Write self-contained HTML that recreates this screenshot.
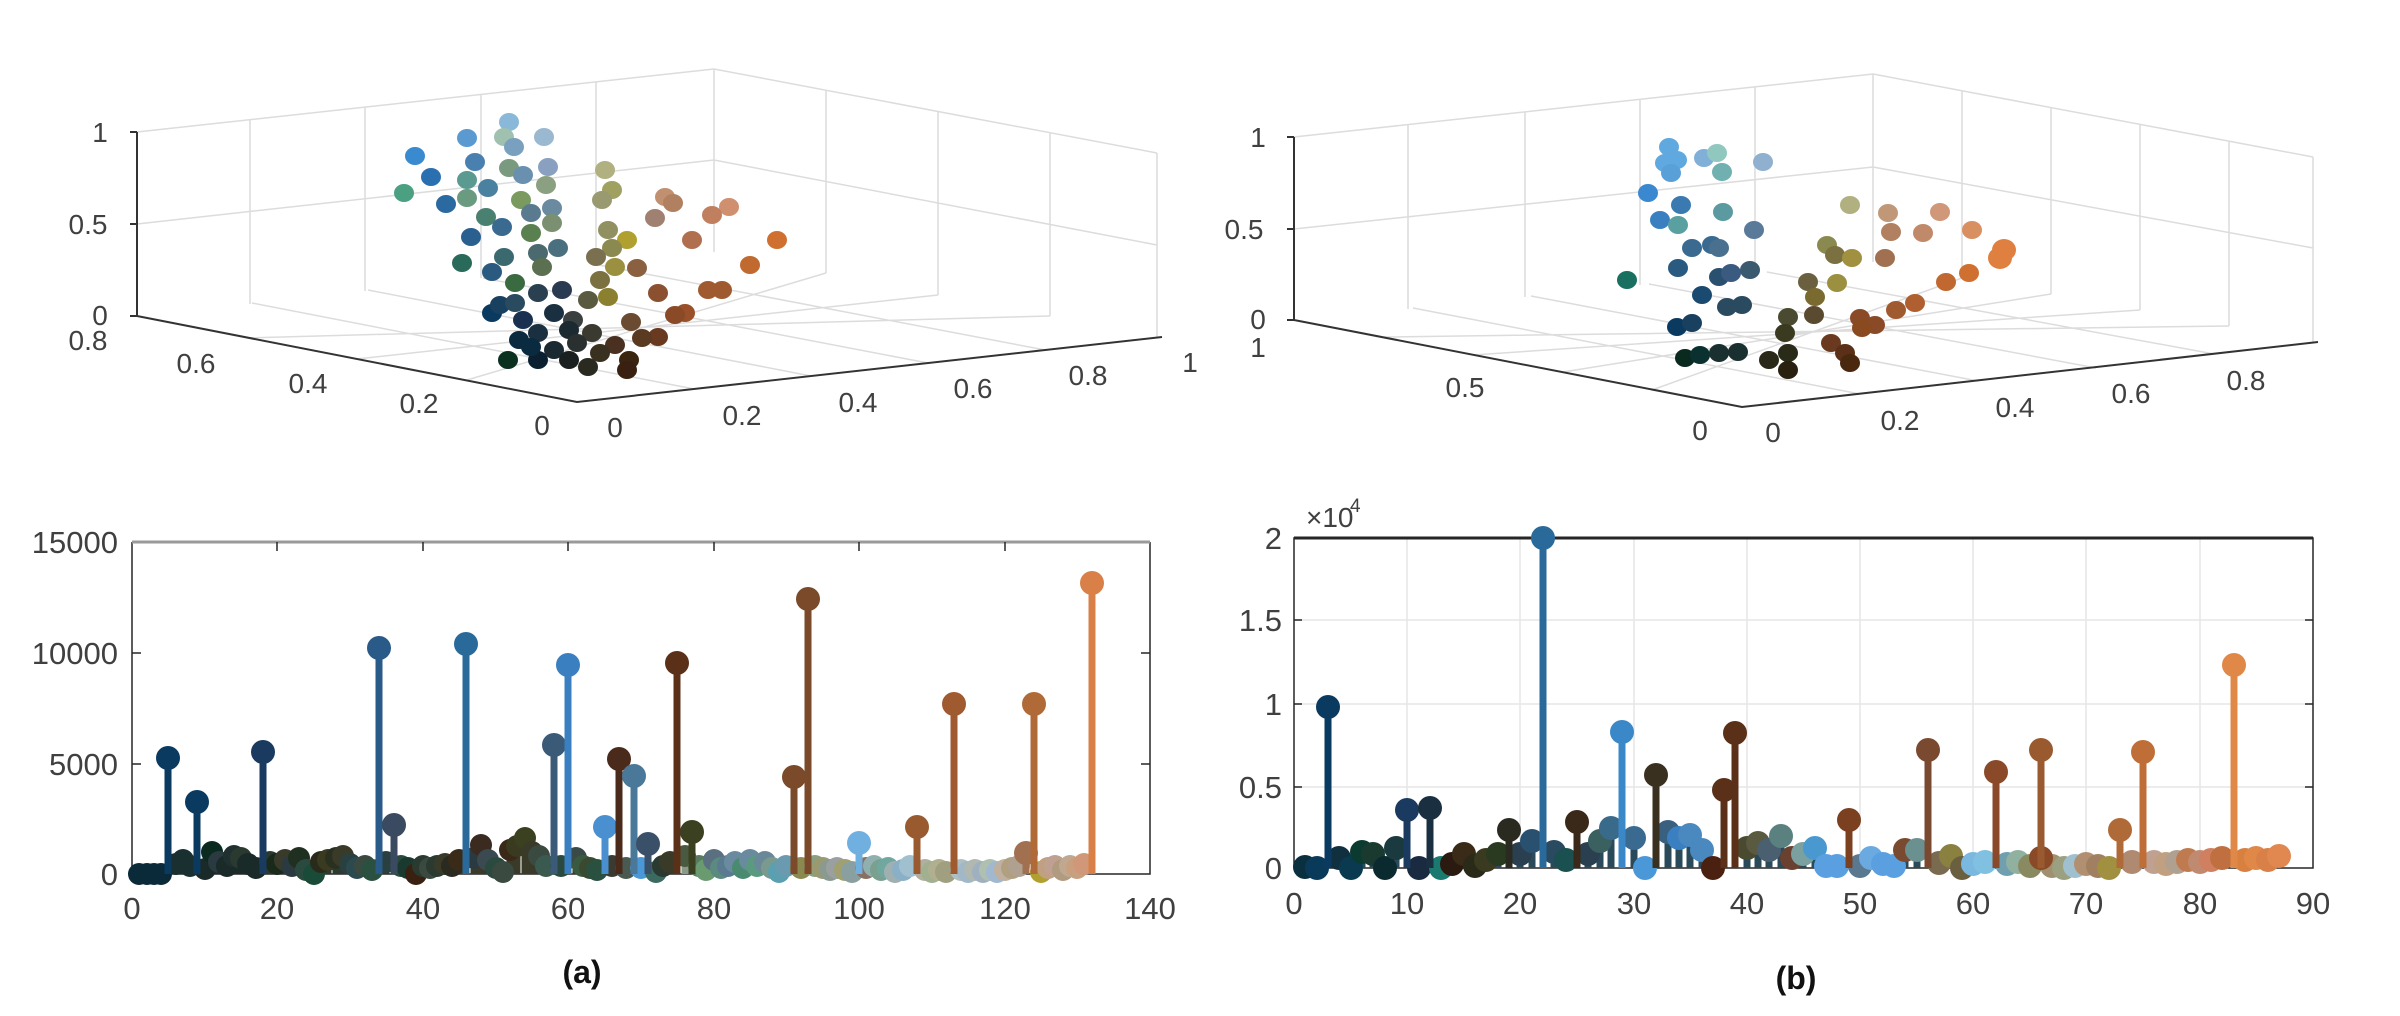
<!DOCTYPE html>
<html><head><meta charset="utf-8"><style>
html,body{margin:0;padding:0;background:#fff}
svg{display:block}
text{font-family:"Liberation Sans",sans-serif;fill:#404040}
circle{stroke:none}
</style></head><body>
<svg width="2400" height="1016" viewBox="0 0 2400 1016" xmlns="http://www.w3.org/2000/svg">
<rect width="2400" height="1016" fill="#fff"/>

<!-- ===== TOP LEFT 3D ===== -->
<g stroke="#dcdcdc" stroke-width="1.5" fill="none">
<path d="M137,132 L714,69 L1157,153 M714,69 V252 M1157,153 V337 M137,224 L714,160 L1157,245"/>
<path d="M250,120 V304 M365,107 V291 M481,95 V278 M596,82 V266 M826,90 V273 M938,111 V295 M1050,132 V316"/>
<path d="M467,380 L826,273 M357,359 L938,295 M247,338 L1050,316 M694,389 L252,303 M811,376 L368,290 M928,363 L483,278 M1045,350 L599,265"/>
</g>
<g stroke="#333" stroke-width="2" fill="none">
<path d="M137,132 V316 M130,132 H137 M130,224 H137 M130,316 H137 M137,316 L577,402 L1162,337"/>
</g>
<g font-size="28">
<text x="100" y="142" text-anchor="middle">1</text><text x="88" y="234" text-anchor="middle">0.5</text><text x="100" y="325" text-anchor="middle">0</text>
<text x="88" y="350" text-anchor="middle">0.8</text><text x="196" y="373" text-anchor="middle">0.6</text><text x="308" y="393" text-anchor="middle">0.4</text><text x="419" y="413" text-anchor="middle">0.2</text><text x="542" y="435" text-anchor="middle">0</text>
<text x="615" y="437" text-anchor="middle">0</text><text x="742" y="425" text-anchor="middle">0.2</text><text x="858" y="412" text-anchor="middle">0.4</text><text x="973" y="398" text-anchor="middle">0.6</text><text x="1088" y="385" text-anchor="middle">0.8</text><text x="1190" y="372" text-anchor="middle">1</text>
</g>
<g>
<ellipse cx="509" cy="122" rx="10" ry="9" fill="#8ab8d8"/><ellipse cx="467" cy="138" rx="10" ry="9" fill="#5a9ad0"/><ellipse cx="544" cy="137" rx="10" ry="9" fill="#9ab8d0"/><ellipse cx="504" cy="137" rx="10" ry="9" fill="#a0c0b0"/><ellipse cx="514" cy="147" rx="10" ry="9" fill="#7aa0c0"/><ellipse cx="415" cy="156" rx="10" ry="9" fill="#3a8ad0"/><ellipse cx="475" cy="162" rx="10" ry="9" fill="#4a80b0"/><ellipse cx="509" cy="168" rx="10" ry="9" fill="#7a9a80"/><ellipse cx="548" cy="167" rx="10" ry="9" fill="#8aa0c0"/><ellipse cx="523" cy="175" rx="10" ry="9" fill="#6a90b0"/><ellipse cx="431" cy="177" rx="10" ry="9" fill="#2a70b0"/><ellipse cx="467" cy="180" rx="10" ry="9" fill="#5a9a90"/><ellipse cx="546" cy="185" rx="10" ry="9" fill="#8aa080"/><ellipse cx="488" cy="188" rx="10" ry="9" fill="#4a80a0"/><ellipse cx="404" cy="193" rx="10" ry="9" fill="#4aa080"/><ellipse cx="446" cy="204" rx="10" ry="9" fill="#2a6aa0"/><ellipse cx="467" cy="198" rx="10" ry="9" fill="#6a9a80"/><ellipse cx="521" cy="200" rx="10" ry="9" fill="#7a9a60"/><ellipse cx="552" cy="208" rx="10" ry="9" fill="#6a8aa0"/><ellipse cx="531" cy="213" rx="10" ry="9" fill="#5a7a90"/><ellipse cx="486" cy="217" rx="10" ry="9" fill="#4a8070"/><ellipse cx="502" cy="227" rx="10" ry="9" fill="#3a6a90"/><ellipse cx="552" cy="223" rx="10" ry="9" fill="#7a9070"/><ellipse cx="471" cy="237" rx="10" ry="9" fill="#2a6090"/><ellipse cx="531" cy="233" rx="10" ry="9" fill="#5a8050"/><ellipse cx="462" cy="263" rx="10" ry="9" fill="#2a6a5a"/><ellipse cx="504" cy="257" rx="10" ry="9" fill="#3a6a70"/><ellipse cx="492" cy="272" rx="10" ry="9" fill="#2a5a80"/><ellipse cx="538" cy="253" rx="10" ry="9" fill="#4a6a70"/><ellipse cx="558" cy="248" rx="10" ry="9" fill="#4a7080"/><ellipse cx="542" cy="267" rx="10" ry="9" fill="#5a7050"/><ellipse cx="515" cy="283" rx="10" ry="9" fill="#3a6a40"/>
<ellipse cx="605" cy="170" rx="10" ry="9" fill="#b0b080"/><ellipse cx="612" cy="190" rx="10" ry="9" fill="#a0a060"/><ellipse cx="602" cy="200" rx="10" ry="9" fill="#9a9a70"/><ellipse cx="608" cy="230" rx="10" ry="9" fill="#909060"/><ellipse cx="627" cy="240" rx="10" ry="9" fill="#b0a030"/><ellipse cx="612" cy="248" rx="10" ry="9" fill="#8a8a50"/><ellipse cx="596" cy="257" rx="10" ry="9" fill="#7a7050"/><ellipse cx="615" cy="267" rx="10" ry="9" fill="#9a9040"/><ellipse cx="600" cy="280" rx="10" ry="9" fill="#7a7040"/><ellipse cx="608" cy="297" rx="10" ry="9" fill="#8a8030"/>
<ellipse cx="665" cy="197" rx="10" ry="9" fill="#c09070"/><ellipse cx="673" cy="203" rx="10" ry="9" fill="#b08060"/><ellipse cx="729" cy="207" rx="10" ry="9" fill="#d09070"/><ellipse cx="712" cy="215" rx="10" ry="9" fill="#c08060"/><ellipse cx="655" cy="218" rx="10" ry="9" fill="#a08070"/><ellipse cx="777" cy="240" rx="10" ry="9" fill="#d07030"/><ellipse cx="692" cy="240" rx="10" ry="9" fill="#b07050"/><ellipse cx="750" cy="265" rx="10" ry="9" fill="#c06a30"/><ellipse cx="637" cy="268" rx="10" ry="9" fill="#8a6040"/><ellipse cx="708" cy="290" rx="10" ry="9" fill="#a05a30"/><ellipse cx="722" cy="290" rx="10" ry="9" fill="#a05a30"/><ellipse cx="658" cy="293" rx="10" ry="9" fill="#8a5030"/><ellipse cx="685" cy="313" rx="10" ry="9" fill="#9a5028"/><ellipse cx="675" cy="315" rx="10" ry="9" fill="#8a4a28"/><ellipse cx="631" cy="322" rx="10" ry="9" fill="#6a4a30"/><ellipse cx="658" cy="337" rx="10" ry="9" fill="#6a3a20"/><ellipse cx="642" cy="338" rx="10" ry="9" fill="#5a3a20"/><ellipse cx="615" cy="345" rx="10" ry="9" fill="#4a3020"/><ellipse cx="629" cy="360" rx="10" ry="9" fill="#3a2510"/><ellipse cx="627" cy="370" rx="10" ry="9" fill="#3a2010"/>
<ellipse cx="492" cy="313" rx="10" ry="9" fill="#0a3a60"/><ellipse cx="500" cy="305" rx="10" ry="9" fill="#1a4060"/><ellipse cx="515" cy="303" rx="10" ry="9" fill="#2a4a60"/><ellipse cx="538" cy="293" rx="10" ry="9" fill="#2a4050"/><ellipse cx="562" cy="290" rx="10" ry="9" fill="#2a3a50"/><ellipse cx="523" cy="320" rx="10" ry="9" fill="#1a3050"/><ellipse cx="554" cy="313" rx="10" ry="9" fill="#1a3040"/><ellipse cx="573" cy="320" rx="10" ry="9" fill="#3a4040"/><ellipse cx="588" cy="300" rx="10" ry="9" fill="#5a5a40"/><ellipse cx="519" cy="340" rx="10" ry="9" fill="#0a2a40"/><ellipse cx="538" cy="333" rx="10" ry="9" fill="#1a3040"/><ellipse cx="569" cy="330" rx="10" ry="9" fill="#1a2a30"/><ellipse cx="592" cy="333" rx="10" ry="9" fill="#3a3a30"/><ellipse cx="508" cy="360" rx="10" ry="9" fill="#0a3020"/><ellipse cx="538" cy="360" rx="10" ry="9" fill="#0a2030"/><ellipse cx="554" cy="350" rx="10" ry="9" fill="#1a2a30"/><ellipse cx="569" cy="360" rx="10" ry="9" fill="#1a2020"/><ellipse cx="588" cy="367" rx="10" ry="9" fill="#2a2a20"/><ellipse cx="600" cy="353" rx="10" ry="9" fill="#3a3020"/><ellipse cx="531" cy="347" rx="10" ry="9" fill="#0a2a40"/><ellipse cx="577" cy="343" rx="10" ry="9" fill="#2a3030"/>
</g>

<!-- ===== TOP RIGHT 3D ===== -->
<g stroke="#dcdcdc" stroke-width="1.5" fill="none">
<path d="M1294,137 L1873,74 L2313,157 M1873,74 V262 M2313,157 V342 M1294,229 L1873,167 L2313,248"/>
<path d="M1408,125 V309 M1525,112 V297 M1640,99 V285 M1755,87 V274 M1962,91 V278 M2051,108 V294 M2140,124 V310 M2229,141 V326"/>
<path d="M1652,390 L1962,278 M1563,372 L2051,294 M1473,355 L2140,310 M1384,337 L2229,326 M1860,394 L1413,308 M1978,381 L1531,296 M2096,368 L1649,284 M2214,354 L1767,272"/>
</g>
<g stroke="#333" stroke-width="2" fill="none">
<path d="M1294,137 V320 M1287,137 H1294 M1287,229 H1294 M1287,320 H1294 M1294,320 L1742,407 L2318,342"/>
</g>
<g font-size="28">
<text x="1258" y="147" text-anchor="middle">1</text><text x="1244" y="239" text-anchor="middle">0.5</text><text x="1258" y="329" text-anchor="middle">0</text>
<text x="1258" y="357" text-anchor="middle">1</text><text x="1465" y="397" text-anchor="middle">0.5</text><text x="1700" y="440" text-anchor="middle">0</text>
<text x="1773" y="442" text-anchor="middle">0</text><text x="1900" y="430" text-anchor="middle">0.2</text><text x="2015" y="417" text-anchor="middle">0.4</text><text x="2131" y="403" text-anchor="middle">0.6</text><text x="2246" y="390" text-anchor="middle">0.8</text>
</g>
<g>
<ellipse cx="1669" cy="147" rx="10" ry="9" fill="#60a8e0"/><ellipse cx="1665" cy="163" rx="10" ry="9" fill="#60a8e0"/><ellipse cx="1677" cy="160" rx="10" ry="9" fill="#60a8e0"/><ellipse cx="1671" cy="173" rx="10" ry="9" fill="#5aa0d8"/><ellipse cx="1704" cy="158" rx="10" ry="9" fill="#80b0d8"/><ellipse cx="1717" cy="153" rx="10" ry="9" fill="#90c8c0"/><ellipse cx="1722" cy="172" rx="10" ry="9" fill="#70b0b0"/><ellipse cx="1763" cy="162" rx="10" ry="9" fill="#90b0d0"/><ellipse cx="1648" cy="193" rx="10" ry="9" fill="#3a88d0"/><ellipse cx="1681" cy="205" rx="10" ry="9" fill="#3a7ab0"/><ellipse cx="1723" cy="212" rx="10" ry="9" fill="#5a9aa0"/><ellipse cx="1660" cy="220" rx="10" ry="9" fill="#3a80c0"/><ellipse cx="1678" cy="225" rx="10" ry="9" fill="#5aa0a0"/><ellipse cx="1754" cy="230" rx="10" ry="9" fill="#5a7a9a"/><ellipse cx="1692" cy="248" rx="10" ry="9" fill="#3a6a90"/><ellipse cx="1712" cy="245" rx="10" ry="9" fill="#3a6a90"/><ellipse cx="1719" cy="248" rx="10" ry="9" fill="#4a7090"/><ellipse cx="1627" cy="280" rx="10" ry="9" fill="#1a7060"/><ellipse cx="1678" cy="268" rx="10" ry="9" fill="#2a5a80"/><ellipse cx="1719" cy="277" rx="10" ry="9" fill="#2a5070"/><ellipse cx="1750" cy="270" rx="10" ry="9" fill="#3a5a70"/><ellipse cx="1731" cy="273" rx="10" ry="9" fill="#3a5a80"/><ellipse cx="1702" cy="295" rx="10" ry="9" fill="#1a4a70"/><ellipse cx="1727" cy="307" rx="10" ry="9" fill="#2a4a60"/><ellipse cx="1742" cy="305" rx="10" ry="9" fill="#2a4a60"/><ellipse cx="1677" cy="327" rx="10" ry="9" fill="#0a3a60"/><ellipse cx="1692" cy="323" rx="10" ry="9" fill="#1a4060"/><ellipse cx="1685" cy="358" rx="10" ry="9" fill="#0a2a20"/><ellipse cx="1700" cy="355" rx="10" ry="9" fill="#0a3030"/><ellipse cx="1719" cy="353" rx="10" ry="9" fill="#1a3030"/><ellipse cx="1738" cy="352" rx="10" ry="9" fill="#1a3030"/>
<ellipse cx="1850" cy="205" rx="10" ry="9" fill="#b0b080"/><ellipse cx="1827" cy="245" rx="10" ry="9" fill="#8a8a50"/><ellipse cx="1835" cy="255" rx="10" ry="9" fill="#7a7040"/><ellipse cx="1852" cy="258" rx="10" ry="9" fill="#a09040"/><ellipse cx="1837" cy="283" rx="10" ry="9" fill="#9a9040"/><ellipse cx="1808" cy="282" rx="10" ry="9" fill="#6a6040"/><ellipse cx="1815" cy="297" rx="10" ry="9" fill="#7a6a30"/><ellipse cx="1788" cy="317" rx="10" ry="9" fill="#4a4a30"/><ellipse cx="1814" cy="315" rx="10" ry="9" fill="#5a4a30"/><ellipse cx="1785" cy="333" rx="10" ry="9" fill="#3a3a20"/><ellipse cx="1788" cy="353" rx="10" ry="9" fill="#2a2a18"/><ellipse cx="1769" cy="360" rx="10" ry="9" fill="#2a2818"/><ellipse cx="1788" cy="370" rx="10" ry="9" fill="#2a2010"/>
<ellipse cx="1888" cy="213" rx="10" ry="9" fill="#c09878"/><ellipse cx="1940" cy="212" rx="10" ry="9" fill="#d09878"/><ellipse cx="1891" cy="232" rx="10" ry="9" fill="#b08060"/><ellipse cx="1923" cy="233" rx="10" ry="9" fill="#c08a6a"/><ellipse cx="1972" cy="230" rx="10" ry="9" fill="#d89060"/><ellipse cx="1885" cy="258" rx="10" ry="9" fill="#a07050"/><ellipse cx="2004" cy="250" rx="12" ry="11" fill="#e08040"/><ellipse cx="2000" cy="258" rx="12" ry="11" fill="#e08040"/><ellipse cx="1969" cy="273" rx="10" ry="9" fill="#d07030"/><ellipse cx="1946" cy="282" rx="10" ry="9" fill="#c06830"/><ellipse cx="1915" cy="303" rx="10" ry="9" fill="#b06030"/><ellipse cx="1896" cy="310" rx="10" ry="9" fill="#a05a30"/><ellipse cx="1860" cy="318" rx="10" ry="9" fill="#8a4a28"/><ellipse cx="1875" cy="325" rx="10" ry="9" fill="#8a4a28"/><ellipse cx="1862" cy="328" rx="10" ry="9" fill="#8a4a20"/><ellipse cx="1831" cy="343" rx="10" ry="9" fill="#6a3a20"/><ellipse cx="1845" cy="353" rx="10" ry="9" fill="#5a3018"/><ellipse cx="1850" cy="363" rx="10" ry="9" fill="#4a2810"/>
</g>

<!-- ===== BOTTOM LEFT STEM (a) ===== -->
<g stroke="#262626" stroke-width="1.5" fill="none">
<path d="M132,542 V874 H1150 V542"/>
<path d="M132,542 H1150" stroke="#9a9a9a" stroke-width="3"/>
<path d="M277,542 v9 M423,542 v9 M568,542 v9 M714,542 v9 M859,542 v9 M1005,542 v9 M1150,653 h-9 M1150,764 h-9 M132,653 h9 M132,764 h9"/>
</g>
<g font-size="31" text-anchor="end">
<text x="118" y="553">15000</text><text x="118" y="664">10000</text><text x="118" y="775">5000</text><text x="118" y="885">0</text>
</g>
<g font-size="31" text-anchor="middle">
<text x="132" y="919">0</text><text x="277" y="919">20</text><text x="423" y="919">40</text><text x="568" y="919">60</text><text x="714" y="919">80</text><text x="859" y="919">100</text><text x="1005" y="919">120</text><text x="1150" y="919">140</text>
</g>
<g stroke-width="7">
<g fill="#0a2a3a" stroke="#0a2a3a"><circle cx="139" cy="874" r="11"/><circle cx="147" cy="874" r="11"/><circle cx="154" cy="874" r="11"/><circle cx="161" cy="874" r="11"/></g>
<g fill="#1a3030" stroke="#1a3030"><path d="M176,874V864M183,874V860M190,874V866"/><circle cx="176" cy="864" r="11"/><circle cx="183" cy="860" r="11"/><circle cx="190" cy="866" r="11"/></g>
<g fill="#1a2a28" stroke="#1a2a28"><path d="M205,874V869M212,874V852M219,874V862M227,874V866M234,874V856M241,874V858M248,874V864M256,874V868"/><circle cx="205" cy="869" r="11"/><circle cx="212" cy="852" r="11" fill="#0a2a20"/><circle cx="219" cy="862" r="11" fill="#2a3a40"/><circle cx="227" cy="866" r="11"/><circle cx="234" cy="856" r="11" fill="#203030"/><circle cx="241" cy="858" r="11" fill="#2a3a30"/><circle cx="248" cy="864" r="11"/><circle cx="256" cy="868" r="11"/></g>
<g fill="#2a3a30" stroke="#2a3a30"><path d="M270,874V862M277,874V864M285,874V860M292,874V866M299,874V858M306,874V870M321,874V862M328,874V860M336,874V858M343,874V856M350,874V864M357,874V868M365,874V866M372,874V870M386,874V862M401,874V866M408,874V868M416,874V872M423,874V866M430,874V868M437,874V866M445,874V864M452,874V866M459,874V860"/>
<circle cx="270" cy="862" r="11"/><circle cx="277" cy="864" r="11" fill="#1a2a1a"/><circle cx="285" cy="860" r="11" fill="#3a3a2a"/><circle cx="292" cy="866" r="11" fill="#2a3a40"/><circle cx="299" cy="858" r="11" fill="#203020"/><circle cx="306" cy="870" r="11" fill="#2a4a40"/><circle cx="314" cy="874" r="11" fill="#1a4a38"/><circle cx="321" cy="862" r="11" fill="#2a2a1a"/><circle cx="328" cy="860" r="11" fill="#3a3a20"/><circle cx="336" cy="858" r="11" fill="#2a3020"/><circle cx="343" cy="856" r="11" fill="#3a3a28"/><circle cx="350" cy="864" r="11" fill="#2a4040"/><circle cx="357" cy="868" r="11" fill="#2a4a50"/><circle cx="365" cy="866" r="11" fill="#3a4a40"/><circle cx="372" cy="870" r="11" fill="#2a5040"/><circle cx="386" cy="862" r="11" fill="#2a4040"/><circle cx="401" cy="866" r="11" fill="#2a4a40"/><circle cx="408" cy="868" r="11" fill="#1a3a30"/><circle cx="416" cy="874" r="11" fill="#3a2010"/><circle cx="423" cy="866" r="11" fill="#2a3a30"/><circle cx="430" cy="868" r="11" fill="#3a4a40"/><circle cx="437" cy="866" r="11" fill="#2a3a30"/><circle cx="445" cy="864" r="11" fill="#3a3a28"/><circle cx="452" cy="866" r="11" fill="#2a2a20"/><circle cx="459" cy="860" r="11" fill="#3a2a18"/></g>
<g fill="#3a3a28" stroke="#3a3a28"><path d="M474,874V858M481,874V845M488,874V860M496,874V868M503,874V872M510,874V850M517,874V846M525,874V838M532,874V852M539,874V856M546,874V866M561,874V866M576,874V858M583,874V866M590,874V868M597,874V870M612,874V866M626,874V868M641,874V868M656,874V872M663,874V866M670,874V862"/>
<circle cx="474" cy="858" r="11" fill="#2a3a40"/><circle cx="481" cy="845" r="11" fill="#3a2a20"/><circle cx="488" cy="860" r="11" fill="#3a4a50"/><circle cx="496" cy="868" r="11" fill="#2a4a40"/><circle cx="503" cy="872" r="11" fill="#3a4a40"/><circle cx="510" cy="850" r="11" fill="#3a2818"/><circle cx="517" cy="846" r="11" fill="#3a3a20"/><circle cx="525" cy="838" r="11" fill="#3a4020"/><circle cx="532" cy="852" r="11" fill="#3a3a28"/><circle cx="539" cy="856" r="11" fill="#3a4a40"/><circle cx="546" cy="866" r="11" fill="#3a5a50"/><circle cx="561" cy="866" r="11" fill="#2a4a40"/><circle cx="576" cy="858" r="11" fill="#3a4a48"/><circle cx="583" cy="866" r="11" fill="#3a5a40"/><circle cx="590" cy="868" r="11" fill="#3a4a30"/><circle cx="597" cy="870" r="11" fill="#2a5040"/><circle cx="612" cy="866" r="11" fill="#3a3a30"/><circle cx="626" cy="868" r="11" fill="#4a5a50"/><circle cx="641" cy="868" r="11" fill="#4a98d8"/><circle cx="656" cy="872" r="11" fill="#3a6a60"/><circle cx="663" cy="866" r="11" fill="#2a3a30"/><circle cx="670" cy="862" r="11" fill="#3a3a28"/></g>
<g fill="#6a8a70" stroke="#8a9a88"><path d="M685,874V856M699,874V866M706,874V870M714,874V860M721,874V868M728,874V866M735,874V862M743,874V868M750,874V860M757,874V866M765,874V862M772,874V868M779,874V872M786,874V866M801,874V868M815,874V866M823,874V868M830,874V870M837,874V868M845,874V870M852,874V872M866,874V868M874,874V866M881,874V870M888,874V868M895,874V872M903,874V870M910,874V866M925,874V870M932,874V872M939,874V870M946,874V872M961,874V870M968,874V872M975,874V870M983,874V872M990,874V870M997,874V872M1005,874V870M1012,874V868M1019,874V866M1041,874V872M1048,874V868M1055,874V866M1063,874V870M1070,874V866M1077,874V868M1084,874V864"/>
<circle cx="685" cy="856" r="11" fill="#4a5a40"/><circle cx="699" cy="866" r="11" fill="#5a7a60"/><circle cx="706" cy="870" r="11" fill="#6a9a70"/><circle cx="714" cy="860" r="11" fill="#5a7080"/><circle cx="721" cy="868" r="11" fill="#5a8a80"/><circle cx="728" cy="866" r="11" fill="#5a7a90"/><circle cx="735" cy="862" r="11" fill="#6a8aa0"/><circle cx="743" cy="868" r="11" fill="#4a8a70"/><circle cx="750" cy="860" r="11" fill="#6a8aa0"/><circle cx="757" cy="866" r="11" fill="#5a9a80"/><circle cx="765" cy="862" r="11" fill="#6a8898"/><circle cx="772" cy="868" r="11" fill="#7a9a90"/><circle cx="779" cy="872" r="11" fill="#5aa0b0"/><circle cx="786" cy="866" r="11" fill="#6a9ab0"/><circle cx="801" cy="868" r="11" fill="#8a8a50"/><circle cx="815" cy="866" r="11" fill="#8aa080"/><circle cx="823" cy="868" r="11" fill="#9a9a70"/><circle cx="830" cy="870" r="11" fill="#8a9a90"/><circle cx="837" cy="868" r="11" fill="#9aa0a0"/><circle cx="845" cy="870" r="11" fill="#a0a070"/><circle cx="852" cy="872" r="11" fill="#8aa0a0"/><circle cx="866" cy="868" r="11" fill="#8a7060"/><circle cx="874" cy="866" r="11" fill="#90b0b0"/><circle cx="881" cy="870" r="11" fill="#7aa090"/><circle cx="888" cy="868" r="11" fill="#70a8a0"/><circle cx="895" cy="872" r="11" fill="#a0b0b0"/><circle cx="903" cy="870" r="11" fill="#8ab0c8"/><circle cx="910" cy="866" r="11" fill="#a0c0d0"/><circle cx="925" cy="870" r="11" fill="#b0b0a0"/><circle cx="932" cy="872" r="11" fill="#a0b090"/><circle cx="939" cy="870" r="11" fill="#b0b090"/><circle cx="946" cy="872" r="11" fill="#a0a080"/><circle cx="961" cy="870" r="11" fill="#b0c0c0"/><circle cx="968" cy="872" r="11" fill="#a0b8c8"/><circle cx="975" cy="870" r="11" fill="#b0b8b0"/><circle cx="983" cy="872" r="11" fill="#a0b0c0"/><circle cx="990" cy="870" r="11" fill="#b0c0b0"/><circle cx="997" cy="872" r="11" fill="#a0b8d0"/><circle cx="1005" cy="870" r="11" fill="#c0b0a0"/><circle cx="1012" cy="868" r="11" fill="#b0a080"/><circle cx="1019" cy="866" r="11" fill="#b0a090"/><circle cx="1041" cy="872" r="11" fill="#b0a030"/><circle cx="1048" cy="868" r="11" fill="#c0a080"/><circle cx="1055" cy="866" r="11" fill="#c0a090"/><circle cx="1063" cy="870" r="11" fill="#b09a80"/><circle cx="1070" cy="866" r="11" fill="#c0a890"/><circle cx="1077" cy="868" r="11" fill="#c8a080"/><circle cx="1084" cy="864" r="11" fill="#d09878"/></g>
<!-- majors a -->
<g fill="#0a3a60" stroke="#0a3a60"><path d="M168,874V758"/><circle cx="168" cy="758" r="12"/><path d="M197,874V802"/><circle cx="197" cy="802" r="12"/></g>
<g fill="#1a3a60" stroke="#1a3a60"><path d="M263,874V752"/><circle cx="263" cy="752" r="12"/></g>
<g fill="#2a5a88" stroke="#2a5a88"><path d="M379,874V648"/><circle cx="379" cy="648" r="12"/></g>
<g fill="#3a4a60" stroke="#3a4a60"><path d="M394,874V825"/><circle cx="394" cy="825" r="12"/></g>
<g fill="#2a6a9a" stroke="#2a6a9a"><path d="M466,874V644"/><circle cx="466" cy="644" r="12"/></g>
<g fill="#3a5a78" stroke="#3a5a78"><path d="M554,874V745"/><circle cx="554" cy="745" r="12"/></g>
<g fill="#3a80c0" stroke="#3a80c0"><path d="M568,874V665"/><circle cx="568" cy="665" r="12"/></g>
<g fill="#4a90d0" stroke="#4a90d0"><path d="M605,874V827"/><circle cx="605" cy="827" r="12"/></g>
<g fill="#4a2a1a" stroke="#4a2a1a"><path d="M619,874V759"/><circle cx="619" cy="759" r="12"/></g>
<g fill="#4a7898" stroke="#4a7898"><path d="M634,874V776"/><circle cx="634" cy="776" r="12"/></g>
<g fill="#3a5068" stroke="#3a5068"><path d="M648,874V844"/><circle cx="648" cy="844" r="12"/></g>
<g fill="#5a3018" stroke="#5a3018"><path d="M677,874V663"/><circle cx="677" cy="663" r="12"/></g>
<g fill="#3a4020" stroke="#3a4020"><path d="M692,874V832"/><circle cx="692" cy="832" r="12"/></g>
<g fill="#7a4a2a" stroke="#7a4a2a"><path d="M794,874V777"/><circle cx="794" cy="777" r="12"/><path d="M808,874V599"/><circle cx="808" cy="599" r="12"/></g>
<g fill="#70b0e0" stroke="#70b0e0"><path d="M859,874V843"/><circle cx="859" cy="843" r="12"/></g>
<g fill="#9a5a30" stroke="#9a5a30"><path d="M917,874V827"/><circle cx="917" cy="827" r="12"/></g>
<g fill="#a05a30" stroke="#a05a30"><path d="M954,874V704"/><circle cx="954" cy="704" r="12"/></g>
<g fill="#a07050" stroke="#a07050"><path d="M1026,874V853"/><circle cx="1026" cy="853" r="12"/></g>
<g fill="#b06a38" stroke="#b06a38"><path d="M1034,874V704"/><circle cx="1034" cy="704" r="12"/></g>
<g fill="#d88048" stroke="#d88048"><path d="M1092,874V583"/><circle cx="1092" cy="583" r="12"/></g>
</g>
<text x="582" y="983" font-size="32" font-weight="bold" text-anchor="middle" style="fill:#111">(a)</text>

<!-- ===== BOTTOM RIGHT STEM (b) ===== -->
<g stroke="#e6e6e6" stroke-width="1.5" fill="none">
<path d="M1407,538V868M1520,538V868M1634,538V868M1747,538V868M1860,538V868M1973,538V868M2086,538V868M2200,538V868M1294,620H2313M1294,704H2313M1294,787H2313"/>
</g>
<g stroke="#262626" stroke-width="1.5" fill="none">
<path d="M1294,868 V538 H2313 V868 H1294"/>
<path d="M1294,538 H2313" stroke-width="3"/>
<path d="M1294,620h8M1294,704h8M1294,787h8M2313,620h-8M2313,704h-8M2313,787h-8"/>
</g>
<g font-size="31" text-anchor="end">
<text x="1282" y="549">2</text><text x="1282" y="631">1.5</text><text x="1282" y="715">1</text><text x="1282" y="798">0.5</text><text x="1282" y="879">0</text>
</g>
<text x="1306" y="527" font-size="28">×10</text><text x="1350" y="512" font-size="19">4</text>
<g font-size="31" text-anchor="middle">
<text x="1294" y="914">0</text><text x="1407" y="914">10</text><text x="1520" y="914">20</text><text x="1634" y="914">30</text><text x="1747" y="914">40</text><text x="1860" y="914">50</text><text x="1973" y="914">60</text><text x="2086" y="914">70</text><text x="2200" y="914">80</text><text x="2313" y="914">90</text>
</g>
<g stroke-width="7">
<g fill="#0a3040" stroke="#2a4a5a"><path d="M1339,868V858M1362,868V852M1373,868V854M1396,868V848M1452,868V864M1464,868V854M1486,868V860M1498,868V854M1520,868V854M1532,868V841M1554,868V852M1566,868V860M1588,868V854M1600,868V841M1611,868V828M1634,868V838M1668,868V832M1679,868V838M1690,868V835M1702,868V850M1747,868V848M1758,868V843M1769,868V850M1781,868V836M1792,868V858M1803,868V854M1815,868V848M1871,868V858M1883,868V864M1905,868V850M1917,868V850M1939,868V863M1951,868V856"/>
<circle cx="1305" cy="867" r="12"/><circle cx="1317" cy="868" r="12" fill="#0a3a5a"/><circle cx="1339" cy="858" r="12" fill="#103040"/><circle cx="1351" cy="868" r="12" fill="#0a3a50"/><circle cx="1362" cy="852" r="12" fill="#0a3a30"/><circle cx="1373" cy="854" r="12" fill="#1a3a30"/><circle cx="1385" cy="868" r="12" fill="#0a2a30"/><circle cx="1396" cy="848" r="12" fill="#1a3a40"/><circle cx="1419" cy="868" r="12" fill="#1a2a40"/><circle cx="1441" cy="868" r="12" fill="#1a7a70"/><circle cx="1452" cy="864" r="12" fill="#2a1a10"/><circle cx="1464" cy="854" r="12" fill="#3a2a18"/><circle cx="1475" cy="866" r="12" fill="#2a2a18"/><circle cx="1486" cy="860" r="12" fill="#3a3a20"/><circle cx="1498" cy="854" r="12" fill="#2a3a20"/><circle cx="1520" cy="854" r="12" fill="#2a4050"/><circle cx="1532" cy="841" r="12" fill="#2a5070"/><circle cx="1554" cy="852" r="12" fill="#2a4a60"/><circle cx="1566" cy="860" r="12" fill="#1a5050"/><circle cx="1588" cy="854" r="12" fill="#2a4050"/><circle cx="1600" cy="841" r="12" fill="#3a6060"/><circle cx="1611" cy="828" r="12" fill="#3a6a8a"/><circle cx="1634" cy="838" r="12" fill="#3a6a90"/><circle cx="1645" cy="868" r="12" fill="#4a98d8"/><circle cx="1668" cy="832" r="12" fill="#3a6080"/><circle cx="1679" cy="838" r="12" fill="#3a80c0"/><circle cx="1690" cy="835" r="12" fill="#4a88c0"/><circle cx="1702" cy="850" r="12" fill="#4a88c0"/><circle cx="1713" cy="868" r="12" fill="#4a2010"/><circle cx="1747" cy="848" r="12" fill="#4a4a30"/><circle cx="1758" cy="843" r="12" fill="#5a5a40"/><circle cx="1769" cy="850" r="12" fill="#4a6070"/><circle cx="1781" cy="836" r="12" fill="#5a8080"/><circle cx="1792" cy="858" r="12" fill="#6a4030"/><circle cx="1803" cy="854" r="12" fill="#7aa0a0"/><circle cx="1815" cy="848" r="12" fill="#4a98d0"/><circle cx="1826" cy="866" r="12" fill="#5aa0e0"/><circle cx="1837" cy="866" r="12" fill="#5aa0e0"/><circle cx="1860" cy="866" r="12" fill="#5a7890"/><circle cx="1871" cy="858" r="12" fill="#6aaae0"/><circle cx="1883" cy="864" r="12" fill="#5aa0e0"/><circle cx="1894" cy="866" r="12" fill="#5aa0e0"/><circle cx="1905" cy="850" r="12" fill="#7a4a30"/><circle cx="1917" cy="850" r="12" fill="#6a9090"/><circle cx="1939" cy="863" r="12" fill="#7a6a50"/><circle cx="1951" cy="856" r="12" fill="#8a8040"/><circle cx="1962" cy="868" r="12" fill="#6a6040"/>
<circle cx="1973" cy="864" r="12" fill="#7ab8e0"/><circle cx="1985" cy="862" r="12" fill="#80c0e0"/><circle cx="2007" cy="864" r="12" fill="#70a0b0"/><circle cx="2018" cy="862" r="12" fill="#90b0a0"/><circle cx="2030" cy="866" r="12" fill="#8a8a60"/><circle cx="2052" cy="866" r="12" fill="#a09070"/><circle cx="2064" cy="868" r="12" fill="#9aa080"/><circle cx="2075" cy="866" r="12" fill="#a0c0d0"/><circle cx="2086" cy="864" r="12" fill="#b09070"/><circle cx="2098" cy="866" r="12" fill="#a08060"/><circle cx="2109" cy="868" r="12" fill="#a09040"/><circle cx="2132" cy="862" r="12" fill="#b08a70"/><circle cx="2154" cy="862" r="12" fill="#c0a090"/><circle cx="2166" cy="864" r="12" fill="#c0a080"/><circle cx="2177" cy="862" r="12" fill="#b0a090"/><circle cx="2188" cy="860" r="12" fill="#c07a50"/><circle cx="2200" cy="862" r="12" fill="#c08a70"/><circle cx="2211" cy="860" r="12" fill="#d08060"/><circle cx="2222" cy="858" r="12" fill="#c07040"/><circle cx="2245" cy="860" r="12" fill="#d88040"/><circle cx="2256" cy="858" r="12" fill="#e08848"/><circle cx="2268" cy="860" r="12" fill="#d88048"/><circle cx="2279" cy="856" r="12" fill="#e08850"/><circle cx="2041" cy="858" r="12" fill="#8a4a28"/></g>
<!-- majors b -->
<g fill="#0a3a60" stroke="#0a3a60"><path d="M1328,868V707"/><circle cx="1328" cy="707" r="12"/></g>
<g fill="#1a3a60" stroke="#1a3a60"><path d="M1407,868V810"/><circle cx="1407" cy="810" r="12"/></g>
<g fill="#1a3040" stroke="#1a3040"><path d="M1430,868V808"/><circle cx="1430" cy="808" r="12"/></g>
<g fill="#2a2a20" stroke="#2a2a20"><path d="M1509,868V830"/><circle cx="1509" cy="830" r="12"/></g>
<g fill="#2a6a9a" stroke="#2a6a9a"><path d="M1543,868V538"/><circle cx="1543" cy="538" r="12"/></g>
<g fill="#3a2818" stroke="#3a2818"><path d="M1577,868V822"/><circle cx="1577" cy="822" r="12"/></g>
<g fill="#3a88c8" stroke="#3a88c8"><path d="M1622,868V732"/><circle cx="1622" cy="732" r="12"/></g>
<g fill="#3a3020" stroke="#3a3020"><path d="M1656,868V775"/><circle cx="1656" cy="775" r="12"/></g>
<g fill="#5a3018" stroke="#5a3018"><path d="M1724,868V790"/><circle cx="1724" cy="790" r="12"/><path d="M1735,868V733"/><circle cx="1735" cy="733" r="12"/></g>
<g fill="#7a4020" stroke="#7a4020"><path d="M1849,868V820"/><circle cx="1849" cy="820" r="12"/></g>
<g fill="#7a4a30" stroke="#7a4a30"><path d="M1928,868V750"/><circle cx="1928" cy="750" r="12"/></g>
<g fill="#8a4a2a" stroke="#8a4a2a"><path d="M1996,868V772"/><circle cx="1996" cy="772" r="12"/></g>
<g fill="#9a5a30" stroke="#9a5a30"><path d="M2041,868V750"/><circle cx="2041" cy="750" r="12"/></g>
<g fill="#b06a38" stroke="#b06a38"><path d="M2120,868V830"/><circle cx="2120" cy="830" r="12"/></g>
<g fill="#c06e38" stroke="#c06e38"><path d="M2143,868V752"/><circle cx="2143" cy="752" r="12"/></g>
<g fill="#e08848" stroke="#e08848"><path d="M2234,868V665"/><circle cx="2234" cy="665" r="12"/></g>
</g>
<text x="1796" y="989" font-size="32" font-weight="bold" text-anchor="middle" style="fill:#111">(b)</text>
</svg>
</body></html>
